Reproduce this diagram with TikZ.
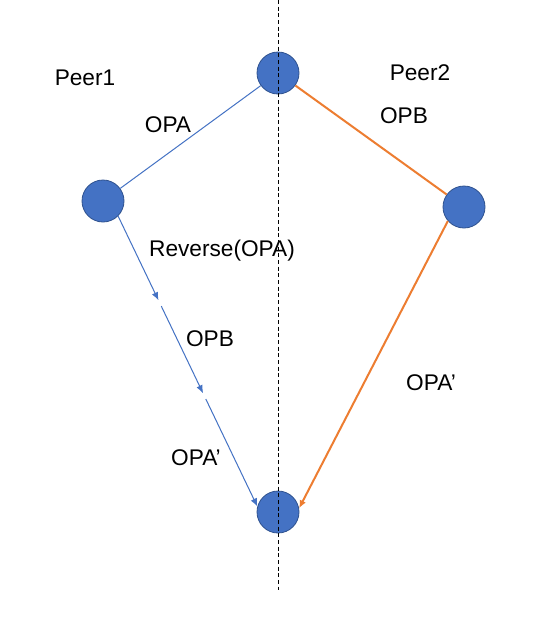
\documentclass[tikz,border=0pt]{standalone}
\usepackage{fontspec}
\setmainfont{Liberation Sans}
\usetikzlibrary{calc,arrows.meta}
\definecolor{nodeblue}{HTML}{4472C4}
\definecolor{nodeedge}{HTML}{2F528F}
\definecolor{oporange}{HTML}{ED7D31}

\begin{document}
\begin{tikzpicture}[x=0.75pt,y=-0.75pt,
  peer/.style={circle,fill=nodeblue,draw=nodeedge,line width=0.6pt,minimum size=31.5pt,inner sep=0pt},
  oplabel/.style={anchor=base,font=\fontsize{17}{20}\selectfont,inner sep=0pt},
  optip/.style={-{Latex[length=6pt,width=5pt]}}]
  \useasboundingbox[fill=white] (0,0) rectangle (548,625);

  \node[peer] (top) at (278,73) {};
  \node[peer] (left) at (103,201) {};
  \node[peer] (right) at (464,207) {};
  \node[peer] (bot) at (278,512) {};

  \coordinate (start) at (left.-45);
  \coordinate (end) at (bot.165);

  \draw[nodeblue,line width=0.75pt] (top) -- (left);
  \draw[nodeblue,line width=0.75pt,optip] (start) -- ($ (start)!0.29!(end) $);
  \draw[nodeblue,line width=0.75pt,optip] ($ (start)!0.31!(end) $) -- ($ (start)!0.61!(end) $);
  \draw[nodeblue,line width=0.75pt,optip] ($ (start)!0.63!(end) $) -- (end);

  \draw[oporange,line width=1.5pt] (top) -- (right);
  \draw[oporange,line width=1.5pt,optip] (right.221) -- (bot.10);

  \draw[black,line width=0.75pt,dash pattern=on 3pt off 2pt] (278,0) -- (278,590);

  \node[oplabel] (peer1) at (85,85) {Peer1};
  \node[oplabel] (peer2) at (420,80) {Peer2};
  \node[oplabel] (opa) at (168,132) {OPA};
  \node[oplabel] (opb) at (404,123) {OPB};
  \node[oplabel] (rev) at (222,256) {Reverse(OPA)};
  \node[oplabel] (opb2) at (210,346) {OPB};
  \node[oplabel] (opa2) at (196,465) {OPA’};
  \node[oplabel] (opa3) at (431,390) {OPA’};
\end{tikzpicture}
\end{document}
